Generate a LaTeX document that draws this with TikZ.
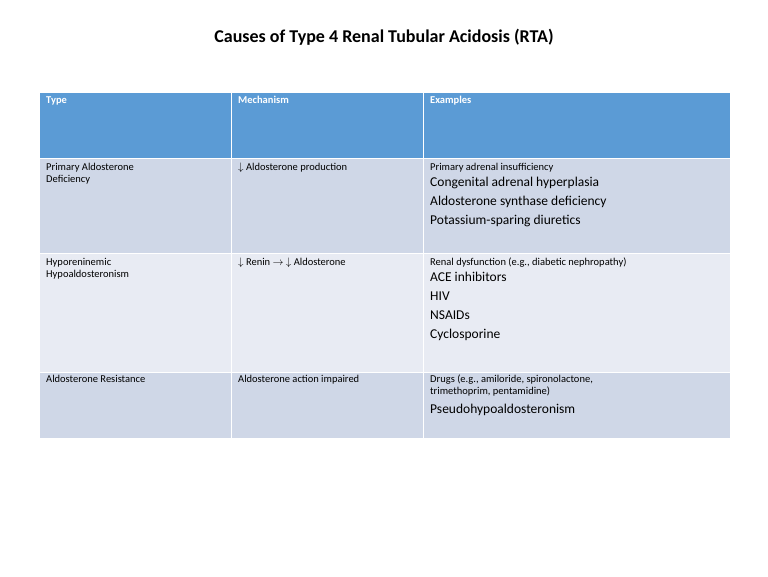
\documentclass[tikz,border=0pt]{standalone}
\usepackage{fontspec}
\setmainfont{Carlito}
\definecolor{headblue}{HTML}{5B9BD5}
\definecolor{rowdark}{HTML}{CFD7E7}
\definecolor{rowlight}{HTML}{E8EBF3}
\tikzset{
 cell/.style={anchor=north west,inner sep=0pt,align=left,font=\fontsize{10.5}{12}\selectfont},
 big/.style={anchor=north west,inner sep=0pt,align=left,font=\fontsize{13.5}{19}\selectfont},
 head/.style={cell,text=white,font=\fontsize{10.5}{12}\selectfont\bfseries}
}
\begin{document}
\begin{tikzpicture}[x=1pt,y=-1pt]
\useasboundingbox (0,0) rectangle (768,576);
\node[font=\fontsize{18}{22}\selectfont\bfseries] (title) at (384,37) {Causes of Type 4 Renal Tubular Acidosis (RTA)};
% backgrounds
\fill[headblue] (40,93) rectangle (730,158);
\fill[rowdark] (40,158) rectangle (730,253);
\fill[rowlight] (40,253) rectangle (730,372);
\fill[rowdark] (40,372) rectangle (730,438);
\foreach \x in {231,423} {
 \draw[white,thick] (\x,93) -- (\x,438);
}
\foreach \y in {158,253,372} {
 \draw[white,thick] (40,\y) -- (730,\y);
}
% header
\node[head] (h1) at (46,96) {Type};
\node[head] (h2) at (238,96) {Mechanism};
\node[head] (h3) at (430,96) {Examples};
% row 1
\node[cell] (t1) at (46,163) {Primary Aldosterone\\Deficiency};
\node[cell] (m1) at (238,163) {$\downarrow$ Aldosterone production};
\node[cell] (e1) at (430,163) {Primary adrenal insufficiency};
\node[big] (x1) at (430,177) {Congenital adrenal hyperplasia\\Aldosterone synthase deficiency\\Potassium-sparing diuretics};
% row 2
\node[cell] (t2) at (46,258) {Hyporeninemic\\Hypoaldosteronism};
\node[cell] (m2) at (238,258) {$\downarrow$ Renin $\rightarrow$ $\downarrow$ Aldosterone};
\node[cell] (e2) at (430,258) {Renal dysfunction (e.g., diabetic nephropathy)};
\node[big] (x2) at (430,272) {ACE inhibitors\\HIV\\NSAIDs\\Cyclosporine};
% row 3
\node[cell] (t3) at (46,375) {Aldosterone Resistance};
\node[cell] (m3) at (238,375) {Aldosterone action impaired};
\node[cell] (e3) at (430,375) {Drugs (e.g., amiloride, spironolactone,\\trimethoprim, pentamidine)};
\node[big] (x3) at (430,404) {Pseudohypoaldosteronism};
\end{tikzpicture}
\end{document}
